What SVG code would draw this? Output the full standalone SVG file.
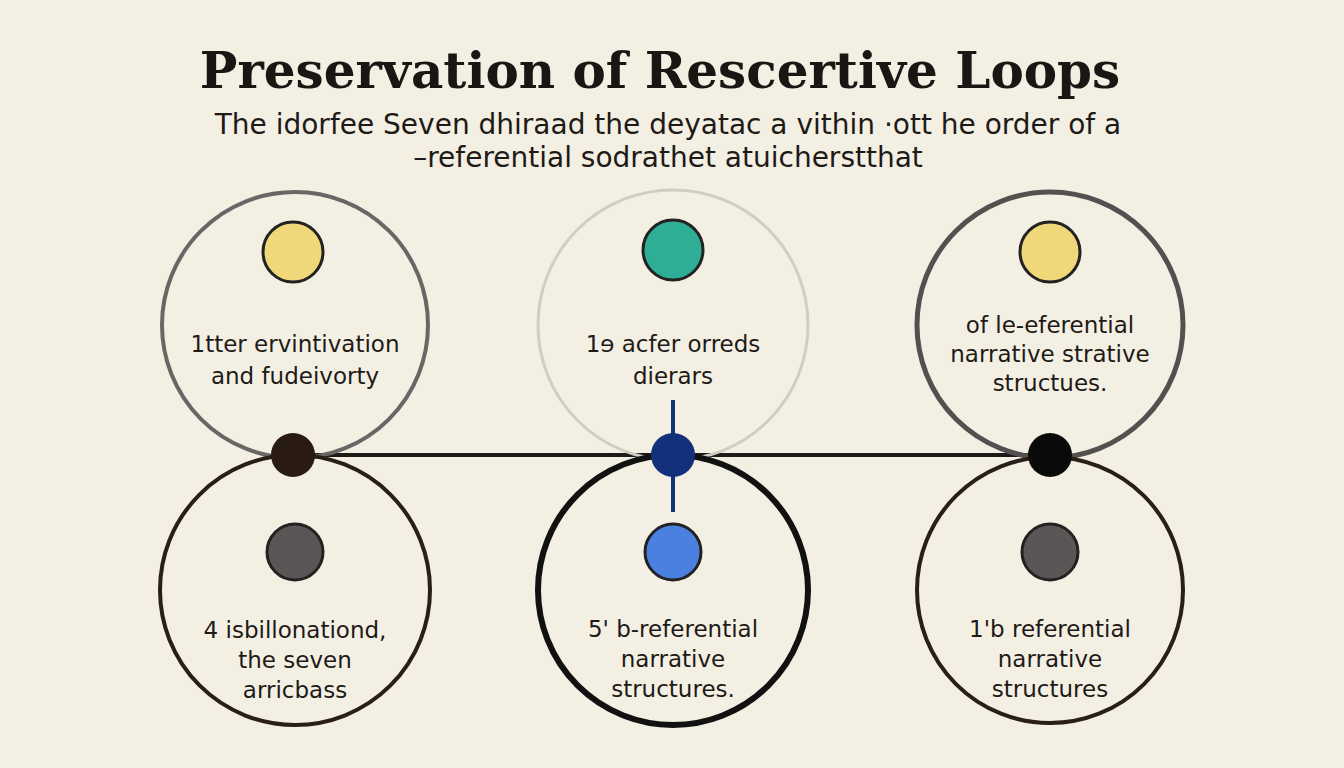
<svg xmlns="http://www.w3.org/2000/svg" width="1344" height="768" viewBox="0 0 1344 768">
<style>
.t{font-family:"DejaVu Sans","Liberation Sans",sans-serif;font-size:23px;fill:#1e1a18;text-anchor:middle}
.s{font-family:"DejaVu Sans","Liberation Sans",sans-serif;font-size:28px;fill:#1e1a18;text-anchor:middle}
.c{fill:none}
</style>
<rect width="1344" height="768" fill="#f4efe3"/>
<text x="660" y="88" font-family="'DejaVu Serif','Liberation Serif',serif" font-weight="bold" font-size="50" fill="#1a1614" text-anchor="middle">Preservation of Rescertive Loops</text>
<text class="s" x="668" y="134">The idorfee Seven dhiraad the deyatac a vithin ·ott he order of  a</text>
<text class="s" x="668" y="167">–referential sodrathet atuicherstthat</text>
<g id="connectors">
<line x1="293" y1="455" x2="1050" y2="455" stroke="#1e1a18" stroke-width="4"/>
<line x1="673" y1="400" x2="673" y2="512" stroke="#13307a" stroke-width="4"/>
</g>
<g id="n1"><circle class="c" cx="295" cy="325" r="133" stroke="#6a6666" stroke-width="4"/><circle cx="293" cy="252" r="30" fill="#f0d77a" stroke="#222" stroke-width="3"/><text class="t" x="295" y="352">1tter ervintivation</text><text class="t" x="295" y="384">and fudeivorty</text></g>
<g id="n2"><circle class="c" cx="673" cy="325" r="135" stroke="#d2cdc4" stroke-width="3"/><circle cx="673" cy="250" r="30" fill="#2eae94" stroke="#222" stroke-width="3"/><text class="t" x="673" y="352">1ɘ acfer orreds</text><text class="t" x="673" y="384">dierars</text></g>
<g id="n3"><circle class="c" cx="1050" cy="325" r="133" stroke="#555050" stroke-width="5"/><circle cx="1050" cy="252" r="30" fill="#f0d77a" stroke="#222" stroke-width="3"/><text class="t" x="1050" y="333">of le-eferential</text><text class="t" x="1050" y="362">narrative strative</text><text class="t" x="1050" y="391">structues.</text></g>
<g id="n4"><circle class="c" cx="295" cy="590" r="135" stroke="#2a1e18" stroke-width="4"/><circle cx="295" cy="552" r="28" fill="#5a5656" stroke="#222" stroke-width="3"/><text class="t" x="295" y="638">4 isbillonationd,</text><text class="t" x="295" y="668">the seven</text><text class="t" x="295" y="698">arricbass</text></g>
<g id="n5"><circle class="c" cx="673" cy="590" r="135" stroke="#111" stroke-width="6"/><circle cx="673" cy="552" r="28" fill="#4a80e0" stroke="#222" stroke-width="3"/><text class="t" x="673" y="637">5' b-referential</text><text class="t" x="673" y="667">narrative</text><text class="t" x="673" y="697">structures.</text></g>
<g id="n6"><circle class="c" cx="1050" cy="590" r="133" stroke="#2a1e18" stroke-width="4"/><circle cx="1050" cy="552" r="28" fill="#5a5656" stroke="#222" stroke-width="3"/><text class="t" x="1050" y="637">1'b referential</text><text class="t" x="1050" y="667">narrative</text><text class="t" x="1050" y="697">structures</text></g>
<g id="j1"><circle cx="293" cy="455" r="22" fill="#2a1a14"/></g>
<g id="j2"><circle cx="673" cy="455" r="22" fill="#13307a"/></g>
<g id="j3"><circle cx="1050" cy="455" r="22" fill="#0a0a0a"/></g>
</svg>
